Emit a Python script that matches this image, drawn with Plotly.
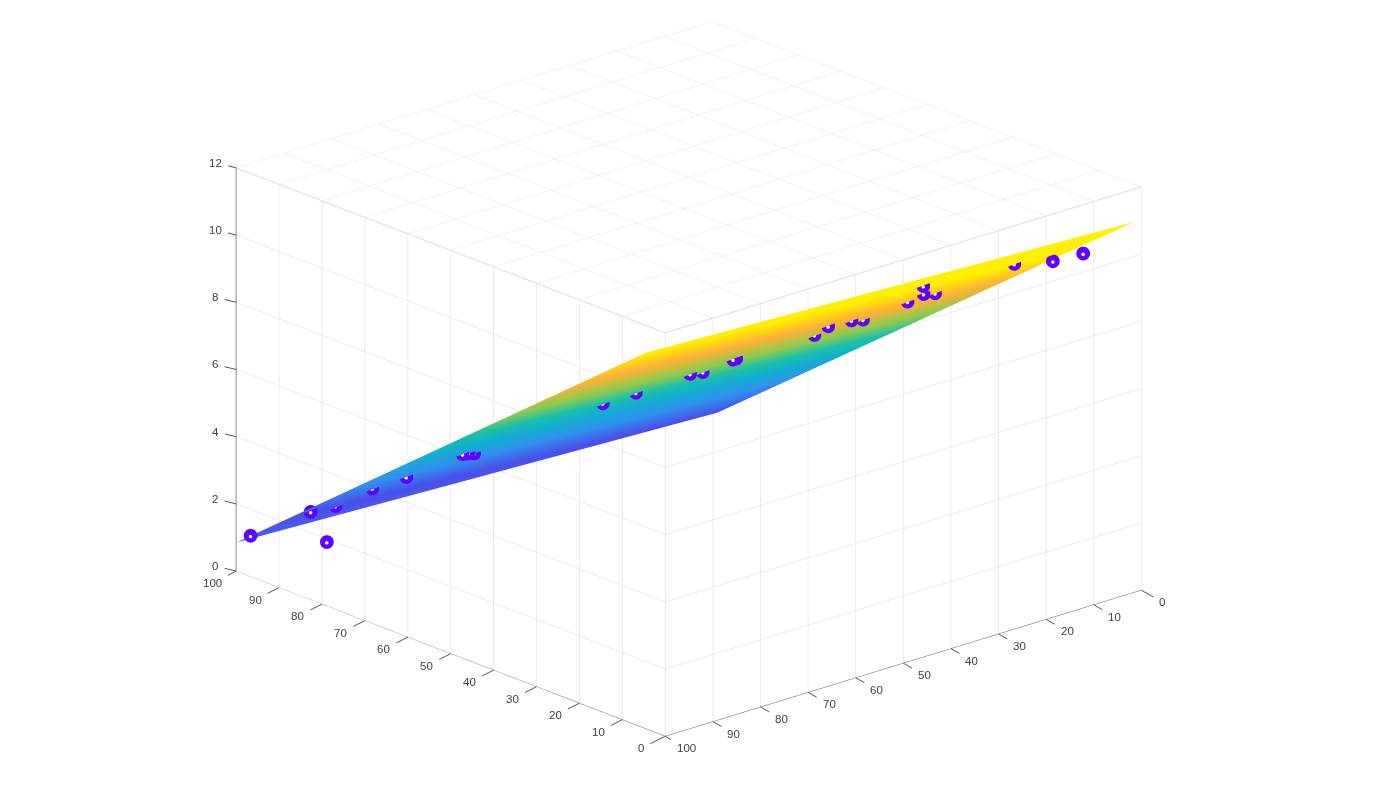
import plotly.graph_objects as go

# fitted plane corners
surf_x = [[0.8, 89], [14, 100]]
surf_y = [[0.8, 0], [100, 100]]
surf_z = [[10.95, 9.15], [2.76, 0.85]]

# sample points
pts_x = [97, 94.5, 86.8, 89.8, 81, 77, 68.5, 69, 70.5, 53.3, 50.5, 44.8, 46.1, 39.9, 39.6,
         36.7, 30.1, 30.8, 32.9, 25.7, 20.7, 13.3, 23.7, 14, 14.1, 7.2]
pts_y = [100, 85, 97.3, 88.2, 89.4, 85.9, 82.2, 80.3, 77.3, 66.4, 61.8, 55.5, 51.1, 50.9, 50.5,
         35.5, 39.6, 33.4, 28.4, 26, 27.8, 36.1, 21.8, 14.1, 5, 5.6]
pts_z = [0.93, 1.37, 1.33, 2.08, 2.16, 2.5, 2.99, 3.13, 3.34, 4.62, 5.04, 5.66, 5.99, 6.1, 6.14,
         7.45, 7.22, 7.73, 8.09, 8.43, 8.35, 7.86, 8.8, 9.63, 10.16, 10.06]

xy_ticks = [0, 10, 20, 30, 40, 50, 60, 70, 80, 90, 100]
z_ticks = [0, 2, 4, 6, 8, 10, 12]

surf_colors = [[0.0, '#fff200'], [0.15, '#ffee00'], [0.28, '#ffb236'], [0.42, '#8ccb50'],
               [0.52, '#1cc0a8'], [0.62, '#14aed0'], [0.75, '#3090f0'], [0.89, '#4a4fe8'], [1.0, '#4a5cf0']]

fig = go.Figure()
fig.add_trace(go.Surface(
    x=surf_x, y=surf_y, z=surf_z, surfacecolor=surf_x,
    colorscale=surf_colors, cmin=0, cmax=100, showscale=False,
    lighting=dict(ambient=1, diffuse=0, specular=0, roughness=1, fresnel=0),
))
fig.add_trace(go.Scatter3d(
    x=pts_x, y=pts_y, z=pts_z, mode='markers',
    marker=dict(size=8, color='#6000ff', line=dict(width=0)),
))
# white dot in the middle of each ring, a hair nearer the camera
fig.add_trace(go.Scatter3d(
    x=pts_x, y=pts_y, z=[v - 0.03 for v in pts_z], mode='markers',
    marker=dict(size=2, color='white', line=dict(width=0)),
))
# darker top edges of the back walls
fig.add_trace(go.Scatter3d(
    x=[100, 100, 0], y=[100, 0, 0], z=[12, 12, 12], mode='lines',
    line=dict(color='#cfcfcf', width=2),
))


def tick_note(x, y, z, text, ax, ay):
    return dict(
        x=x, y=y, z=z, text=text, showarrow=True, arrowhead=0, arrowwidth=1, arrowcolor='#555555',
        startstandoff=5, ax=ax, ay=ay, font=dict(family='Liberation Sans', size=11.5, color='#404040'),
    )


notes = []
for t in xy_ticks:
    notes.append(tick_note(t, 0, 0, str(t), 21, 12))
    notes.append(tick_note(100, t, 0, str(t), -24, 12))
for t in z_ticks:
    notes.append(tick_note(100, 100, t, str(t), -21, -5))


def axis(rng, ticks, line_color, line_width):
    return dict(
        range=rng, tickvals=ticks, title=dict(text=''), showticklabels=False,
        showgrid=True, gridcolor='#e4e4e4', gridwidth=1.5,
        showline=True, linecolor=line_color, linewidth=line_width, ticks='',
        showbackground=False, zeroline=False, showspikes=False,
    )


# eye stays at the same direction from the shifted centre
center = dict(x=-0.036, y=-0.033, z=-0.062)
eye_r = 2.0
fig.update_layout(
    width=1400, height=788, paper_bgcolor='white', showlegend=False,
    margin=dict(l=0, r=0, t=0, b=0),
    scene=dict(
        domain=dict(x=[0, 1], y=[0, 1]),
        xaxis=axis([0, 100], xy_ticks, '#666666', 1),
        yaxis=axis([0, 100], xy_ticks, '#666666', 1),
        zaxis=axis([0, 12], z_ticks, '#8a8a8a', 2),
        aspectmode='manual',
        aspectratio=dict(x=1.62, y=1.635, z=1.09),
        annotations=notes,
        camera=dict(
            projection=dict(type='orthographic'),
            up=dict(x=0, y=0, z=1),
            center=center,
            eye=dict(x=center['x'] - 0.6254 * eye_r, y=center['y'] + 0.7003 * eye_r,
                     z=center['z'] - 0.3435 * eye_r),
        ),
    ),
)

fig.write_html("out.html")
